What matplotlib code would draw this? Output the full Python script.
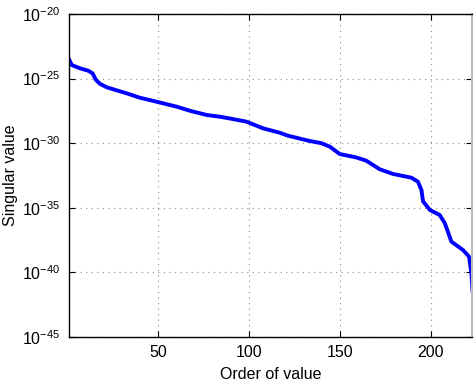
import matplotlib
matplotlib.use("Agg")
import matplotlib.pyplot as plt
import numpy as np

# order index and log10 of singular value
order = [1, 2.5, 7, 11.6, 14, 15.8, 18, 21.7, 32.7, 40, 49.2, 60.2, 67.8, 76.9, 84,
         90, 98.6, 107.8, 117, 121.5, 133.5, 139.9, 144.5, 150, 159, 164.5, 172,
         179.3, 189.4, 193, 194.9, 195.8, 199.6, 205, 207.8, 211.4, 217.8, 221.1,
         222.4, 223]
log_sv = [-23.5, -23.95, -24.2, -24.39, -24.6, -25.1, -25.4, -25.67, -26.14, -26.48,
          -26.79, -27.17, -27.5, -27.82, -27.95, -28.1, -28.33, -28.85, -29.19, -29.42,
          -29.83, -30.0, -30.27, -30.84, -31.1, -31.35, -32.02, -32.38, -32.67, -32.98,
          -33.62, -34.5, -35.17, -35.56, -36.2, -37.62, -38.27, -38.78, -40.07, -41.4]

plt.rcParams["font.family"] = ["Liberation Sans", "DejaVu Sans"]
plt.rcParams["mathtext.fontset"] = "custom"
plt.rcParams["mathtext.rm"] = "Liberation Sans"

fig = plt.figure(figsize=(4.74, 3.87), dpi=100)
ax = fig.add_axes([0.1456, 0.1292, 0.8512, 0.8346])

ax.semilogy(order, 10.0 ** np.array(log_sv), color="#0000ff", lw=2.8)

ax.set_xlim(1, 223)
ax.set_ylim(1e-45, 1e-20)
ax.set_xticks([50, 100, 150, 200])
ax.set_yticks([10.0 ** k for k in range(-45, -19, 5)])
ax.yaxis.set_minor_locator(matplotlib.ticker.NullLocator())
ax.grid(True, which="major", color="#888888", linestyle=(0, (1, 4)), lw=0.8)
ax.tick_params(direction="in", length=4, width=0.8, top=True, right=True,
               labelsize=11.5, colors="black", pad=6)
for side in ["left", "bottom", "top"]:
    ax.spines[side].set_linewidth(1.0)
ax.spines["right"].set_color("#bbbbbb")
ax.spines["right"].set_linewidth(1.5)

ax.set_xlabel("Order of value", fontsize=11.5, labelpad=5)
ax.set_ylabel("Singular value", fontsize=11.5, labelpad=3)

fig.savefig("out.png", dpi=100)
